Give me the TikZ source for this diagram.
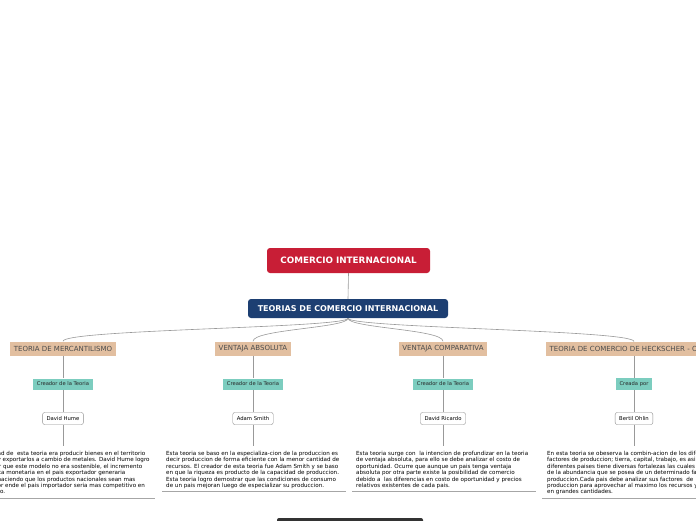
\documentclass[tikz,border=0pt]{standalone}
\usepackage{fontspec}
\setmainfont{DejaVu Sans}
\usetikzlibrary{calc}
\definecolor{cred}{HTML}{C81E36}
\definecolor{cblue}{HTML}{1D3F72}
\definecolor{ctan}{HTML}{E2BFA0}
\definecolor{cteal}{HTML}{7CCDBF}
\begin{document}
\begin{tikzpicture}[x=1pt,y=-1pt,
  top/.style={rounded corners=3pt,fill=cred,text=white,font=\bfseries\fontsize{8.8}{10}\selectfont,minimum width=163pt,minimum height=25pt},
  sub/.style={rounded corners=3pt,fill=cblue,text=white,font=\bfseries\fontsize{8}{9}\selectfont,minimum width=200pt,minimum height=19pt},
  theory/.style={fill=ctan,text=black!70,font=\fontsize{7}{8}\selectfont,minimum height=14pt,inner xsep=3.5pt},
  tealbox/.style={fill=cteal,text=black!85,font=\fontsize{5.2}{6}\selectfont,minimum height=11pt,inner xsep=3.5pt},
  person/.style={draw=black!45,rounded corners=2pt,fill=white,font=\fontsize{5.3}{6}\selectfont,minimum height=12pt,inner xsep=4pt},
  para/.style={font=\fontsize{5.6}{6.4}\selectfont,align=left,anchor=north west,inner sep=0pt},
  link/.style={draw=black!40,line width=0.6pt},
  uline/.style={draw=black!35,line width=1pt}]
\useasboundingbox (0,0) rectangle (696,520);
\clip (0,0) rectangle (696,520);
\fill[white] (0,0) rectangle (696,520);
\fill[rounded corners=2pt,black!80] (277,518) rectangle (423,530);
\node[top] (ci) at (348.5,260.5) {COMERCIO INTERNACIONAL};
\node[sub] (tci) at (348,308.5) {TEORIAS DE COMERCIO INTERNACIONAL};
\draw[link] (ci.south) -- (tci.north);
\node[theory] (t1) at (63,348.5) {TEORIA DE MERCANTILISMO};
\node[theory] (t2) at (253,348.5) {VENTAJA ABSOLUTA};
\node[theory] (t3) at (443,348.5) {VENTAJA COMPARATIVA};
\node[theory,anchor=west] (t4) at (546,348.5) {TEORIA DE COMERCIO DE HECKSCHER - OHLIN};
\coordinate (t4top) at (634,341.5);
\foreach \t in {t1,t2,t3} \draw[link] (tci.south) .. controls (348,328) and ($(\t.north)+(0,-12)$) .. (\t.north);
\draw[link] (tci.south) .. controls (348,328) and (634,330) .. (t4top);
\node[tealbox] (c1) at (63,384) {Creador de la Teoria};
\node[tealbox] (c2) at (253,384) {Creador de la Teoria};
\node[tealbox] (c3) at (443,384) {Creador de la Teoria};
\node[tealbox] (c4) at (634,384) {Creada por};
\node[person] (p1) at (63,418.5) {David Hume};
\node[person] (p2) at (253,418.5) {Adam Smith};
\node[person] (p3) at (443,418.5) {David Ricardo};
\node[person] (p4) at (634,418.5) {Bertil Ohlin};
\draw[link] (t1.south) -- (c1.north); \draw[link] (c1.south) -- (p1.north);
\draw[link] (t2.south) -- (c2.north); \draw[link] (c2.south) -- (p2.north);
\draw[link] (t3.south) -- (c3.north); \draw[link] (c3.south) -- (p3.north);
\draw[link] (t4.south -| t4top) -- (c4.north); \draw[link] (c4.south) -- (p4.north);
\node[para] (x1) at (-28,451) {La finalidad de\ \ esta teoria era producir bienes en el territorio\\nacional y exportarlos a cambio de metales. David Hume logro\\demostrar que este modelo no era sostenible, el incremento\\de la oferta monetaria en el pais exportador generaria\\inflacion haciendo que los productos nacionales sean mas\\caros y por ende el pais importador seria mas competitivo en\\el mercado.};
\node[para] (x2) at (166,451) {Esta teoria se baso en la especializa-cion de la produccion es\\decir produccion de forma eficiente con la menor cantidad de\\recursos. El creador de esta teoria fue Adam Smith y se baso\\en que la riqueza es producto de la capacidad de produccion.\\Esta teoria logro demostrar que las condiciones de consumo\\de un pais mejoran luego de especializar su produccion.};
\node[para] (x3) at (356,451) {Esta teoria surge con\ \ la intencion de profundizar en la teoria\\de ventaja absoluta, para ello se debe analizar el costo de\\oportunidad. Ocurre que aunque un pais tenga ventaja\\absoluta por otra parte existe la posibilidad de comercio\\debido a\ \ las diferencias en costo de oportunidad y precios\\relativos existentes de cada pais.};
\node[para] (x4) at (547,451) {En esta teoria se obeserva la combin-acion de los diferentes\\factores de produccion; tierra, capital, trabajo, es asi que\\diferentes paises tiene diversas fortalezas las cuales dependen\\de la abundancia que se posea de un determinado factor de\\produccion.Cada pais debe analizar sus factores\ \ de\\produccion para aprovechar al maximo los recursos y producir\\en grandes cantidades.};
\draw[link] (p1.south) -- (63,446); \draw[link] (p2.south) -- (253,446);
\draw[link] (p3.south) -- (443,446); \draw[link] (p4.south) -- (634,446);
\draw[uline] (-40,498) -- (155,498);
\draw[uline] (162,491.5) -- (346,491.5);
\draw[uline] (352,491.5) -- (536,491.5);
\draw[uline] (542,498) -- (700,498);
\end{tikzpicture}
\end{document}
